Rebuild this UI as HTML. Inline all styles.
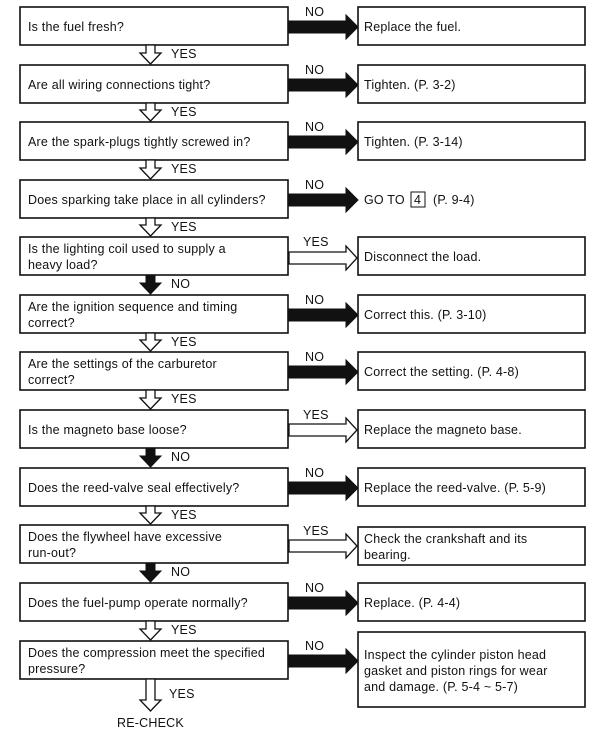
<!DOCTYPE html>
<html><head><meta charset="utf-8"><style>
html,body{margin:0;padding:0;background:#fff;}
svg{display:block;}
text{font-family:"Liberation Sans",Arial,sans-serif;font-size:12.5px;fill:#111;letter-spacing:0.2px;}
.b{fill:#fff;stroke:#111;stroke-width:1.6;}
.k{fill:#111;stroke:#111;stroke-width:1;}
.h{fill:#fff;stroke:#111;stroke-width:1.3;}
</style></head><body>
<svg width="600" height="735" viewBox="0 0 600 735" xmlns="http://www.w3.org/2000/svg">
<!-- left boxes -->
<rect class="b" x="20" y="7" width="268" height="38"/>
<rect class="b" x="20" y="65" width="268" height="38"/>
<rect class="b" x="20" y="122" width="268" height="38"/>
<rect class="b" x="20" y="180" width="268" height="38"/>
<rect class="b" x="20" y="237" width="268" height="38"/>
<rect class="b" x="20" y="295" width="268" height="38"/>
<rect class="b" x="20" y="352" width="268" height="38"/>
<rect class="b" x="20" y="410" width="268" height="38"/>
<rect class="b" x="20" y="468" width="268" height="38"/>
<rect class="b" x="20" y="525" width="268" height="38"/>
<rect class="b" x="20" y="583" width="268" height="38"/>
<rect class="b" x="20" y="641" width="268" height="38"/>
<!-- right boxes -->
<rect class="b" x="358" y="7" width="227" height="38"/>
<rect class="b" x="358" y="65" width="227" height="38"/>
<rect class="b" x="358" y="122" width="227" height="38"/>
<rect class="b" x="358" y="237" width="227" height="38"/>
<rect class="b" x="358" y="295" width="227" height="38"/>
<rect class="b" x="358" y="352" width="227" height="38"/>
<rect class="b" x="358" y="410" width="227" height="38"/>
<rect class="b" x="358" y="468" width="227" height="38"/>
<rect class="b" x="358" y="527" width="227" height="38"/>
<rect class="b" x="358" y="583" width="227" height="38"/>
<rect class="b" x="358" y="632" width="227" height="75"/>

<!-- left text -->
<text x="28" y="31">Is the fuel fresh?</text>
<text x="28" y="89">Are all wiring connections tight?</text>
<text x="28" y="146">Are the spark-plugs tightly screwed in?</text>
<text x="28" y="204">Does sparking take place in all cylinders?</text>
<text x="28" y="253">Is the lighting coil used to supply a</text>
<text x="28" y="269">heavy load?</text>
<text x="28" y="311">Are the ignition sequence and timing</text>
<text x="28" y="327">correct?</text>
<text x="28" y="368">Are the settings of the carburetor</text>
<text x="28" y="384">correct?</text>
<text x="28" y="434">Is the magneto base loose?</text>
<text x="28" y="492">Does the reed-valve seal effectively?</text>
<text x="28" y="541">Does the flywheel have excessive</text>
<text x="28" y="557">run-out?</text>
<text x="28" y="607">Does the fuel-pump operate normally?</text>
<text x="28" y="657">Does the compression meet the specified</text>
<text x="28" y="673">pressure?</text>

<!-- right text -->
<text x="364" y="31">Replace the fuel.</text>
<text x="364" y="89">Tighten. (P. 3-2)</text>
<text x="364" y="146">Tighten. (P. 3-14)</text>
<text x="364" y="204">GO TO</text>
<rect x="411" y="192" width="14" height="15" fill="none" stroke="#111" stroke-width="1"/>
<text x="414" y="204">4</text>
<text x="433" y="204">(P. 9-4)</text>
<text x="364" y="261">Disconnect the load.</text>
<text x="364" y="319">Correct this. (P. 3-10)</text>
<text x="364" y="376">Correct the setting. (P. 4-8)</text>
<text x="364" y="434">Replace the magneto base.</text>
<text x="364" y="492">Replace the reed-valve. (P. 5-9)</text>
<text x="364" y="543">Check the crankshaft and its</text>
<text x="364" y="559">bearing.</text>
<text x="364" y="607">Replace. (P. 4-4)</text>
<text x="364" y="659">Inspect the cylinder piston head</text>
<text x="364" y="675">gasket and piston rings for wear</text>
<text x="364" y="691">and damage. (P. 5-4 ~ 5-7)</text>

<!-- horizontal arrows -->
<g>
<polygon class="k" points="289,21 346,21 346,15 358,27 346,39 346,33 289,33"/>
<polygon class="k" points="289,79 346,79 346,73 358,85 346,97 346,91 289,91"/>
<polygon class="k" points="289,136 346,136 346,130 358,142 346,154 346,148 289,148"/>
<polygon class="k" points="289,194 346,194 346,188 358,200 346,212 346,206 289,206"/>
<polygon class="h" points="289,252 346,252 346,246 357,258 346,270 346,264 289,264"/>
<polygon class="k" points="289,309 346,309 346,303 358,315 346,327 346,321 289,321"/>
<polygon class="k" points="289,366 346,366 346,360 358,372 346,384 346,378 289,378"/>
<polygon class="h" points="289,424 346,424 346,418 357,430 346,442 346,436 289,436"/>
<polygon class="k" points="289,482 346,482 346,476 358,488 346,500 346,494 289,494"/>
<polygon class="h" points="289,540 346,540 346,534 357,546 346,558 346,552 289,552"/>
<polygon class="k" points="289,597 346,597 346,591 358,603 346,615 346,609 289,609"/>
<polygon class="k" points="289,655 346,655 346,649 358,661 346,673 346,667 289,667"/>
</g>
<text x="305" y="16">NO</text>
<text x="305" y="74">NO</text>
<text x="305" y="131">NO</text>
<text x="305" y="189">NO</text>
<text x="303" y="246">YES</text>
<text x="305" y="304">NO</text>
<text x="305" y="361">NO</text>
<text x="303" y="419">YES</text>
<text x="305" y="477">NO</text>
<text x="303" y="535">YES</text>
<text x="305" y="592">NO</text>
<text x="305" y="650">NO</text>

<!-- down arrows -->
<polygon class="h" points="146,45 155,45 155,53 161,53 150.5,64 140,53 146,53"/>
<polygon class="h" points="146,103 155,103 155,110 161,110 150.5,121 140,110 146,110"/>
<polygon class="h" points="146,160 155,160 155,168 161,168 150.5,179 140,168 146,168"/>
<polygon class="h" points="146,218 155,218 155,225 161,225 150.5,236 140,225 146,225"/>
<polygon class="k" points="146,275 155,275 155,283 161,283 150.5,294 140,283 146,283"/>
<polygon class="h" points="146,333 155,333 155,340 161,340 150.5,351 140,340 146,340"/>
<polygon class="h" points="146,390 155,390 155,398 161,398 150.5,409 140,398 146,398"/>
<polygon class="k" points="146,448 155,448 155,456 161,456 150.5,467 140,456 146,456"/>
<polygon class="h" points="146,506 155,506 155,513 161,513 150.5,524 140,513 146,513"/>
<polygon class="k" points="146,563 155,563 155,571 161,571 150.5,582 140,571 146,571"/>
<polygon class="h" points="146,621 155,621 155,629 161,629 150.5,640 140,629 146,629"/>
<polygon class="h" points="146,679 155,679 155,700 161,700 150.5,711 140,700 146,700"/>
<text x="171" y="58">YES</text>
<text x="171" y="116">YES</text>
<text x="171" y="173">YES</text>
<text x="171" y="231">YES</text>
<text x="171" y="288">NO</text>
<text x="171" y="346">YES</text>
<text x="171" y="403">YES</text>
<text x="171" y="461">NO</text>
<text x="171" y="519">YES</text>
<text x="171" y="576">NO</text>
<text x="171" y="634">YES</text>
<text x="169" y="698">YES</text>
<text x="117" y="727">RE-CHECK</text>
</svg>
</body></html>
